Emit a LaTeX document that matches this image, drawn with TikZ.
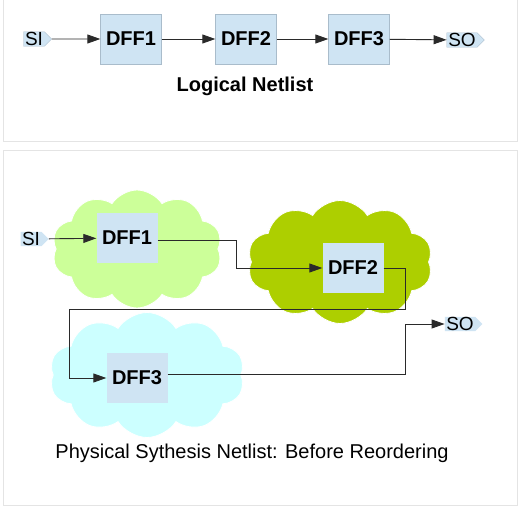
\documentclass[tikz,border=0pt]{standalone}
\usepackage{fontspec}
\setmainfont{Liberation Sans}
\usetikzlibrary{shapes.symbols,arrows.meta}
\definecolor{bx}{HTML}{CFE4F3}
\definecolor{bxl}{HTML}{A9BCCB}
\definecolor{lg}{HTML}{CCFF99}
\definecolor{dg}{HTML}{ADCF00}
\definecolor{cy}{HTML}{CCFFFF}
\definecolor{wr}{HTML}{2A2A2A}
\definecolor{fr}{HTML}{E4E4E4}

\tikzset{
	dff/.style={fill=bx, minimum width=61pt, minimum height=50pt, inner sep=0pt, font=\fontsize{20}{20}\selectfont\bfseries},
	pinbox/.style={signal, signal to=east, fill=bx, inner xsep=1.5pt, inner ysep=0.5pt, font=\fontsize{19}{19}\selectfont},
	wire/.style={wr, line width=0.9pt, -{Triangle[length=13pt,width=9pt]}},
	blob/.style={cloud, cloud puffs=10, cloud puff arc=115, cloud ignores aspect, draw=white, line width=0.8pt}
}

\begin{document}
\begin{tikzpicture}[x=1pt, y=-1pt]
	\useasboundingbox (0,0) rectangle (520,508);
	\fill[white] (0,0) rectangle (520,508);

	\draw[fr] (3,-2) rectangle (517,141);
	\draw[fr] (3,150) rectangle (517,505);

	% logical netlist
	\node[pinbox, draw=bxl] (si) at (34,39) {SI};
	\node[dff, draw=bxl] (d1) at (131,39) {DFF1};
	\node[dff, draw=bxl] (d2) at (246,39) {DFF2};
	\node[dff, draw=bxl] (d3) at (359,39) {DFF3};
	\node[pinbox, draw=bxl] (so) at (462,40) {SO};

	\draw[wire] (si) -- (d1);
	\draw[wire] (d1) -- (d2);
	\draw[wire] (d2) -- (d3);
	\draw[wire] (d3) -- (so);

	\node[font=\fontsize{20}{20}\selectfont\bfseries] (t1) at (245,86) {Logical Netlist};

	% physical netlist
	\node[blob, fill=lg, minimum width=170pt, minimum height=118pt] (c1) at (137,249) {};
	\node[blob, fill=dg, minimum width=185pt, minimum height=123pt] (c2) at (340,262) {};
	\node[blob, fill=cy, minimum width=195pt, minimum height=125pt] (c3) at (147,375) {};

	\node[pinbox, draw=none] (psi) at (31,239) {SI};
	\node[dff] (pd1) at (127,238) {DFF1};
	\node[dff] (pd2) at (353,268) {DFF2};
	\node[dff] (pd3) at (137,378) {DFF3};
	\node[pinbox, draw=none] (pso) at (460,324) {SO};

	\coordinate (k1) at (236,240);
	\coordinate (k2) at (405,309);
	\coordinate (k3) at (69,309);
	\coordinate (k4) at (405,374);

	\draw[wire] (psi) -- (pd1);
	\draw[wire] ([yshift=-2pt]pd1.east) -- (k1) |- (pd2.west);
	\draw[wire] (pd2.east) -| (k2) -- (k3) |- (pd3.west);
	\draw[wire] ([yshift=4pt]pd3.east) -- (k4) |- (pso.west);

	\node[font=\fontsize{20}{20}\selectfont] (t2) at (252,453) {Physical Sythesis Netlist: Before Reordering};
\end{tikzpicture}
\end{document}
